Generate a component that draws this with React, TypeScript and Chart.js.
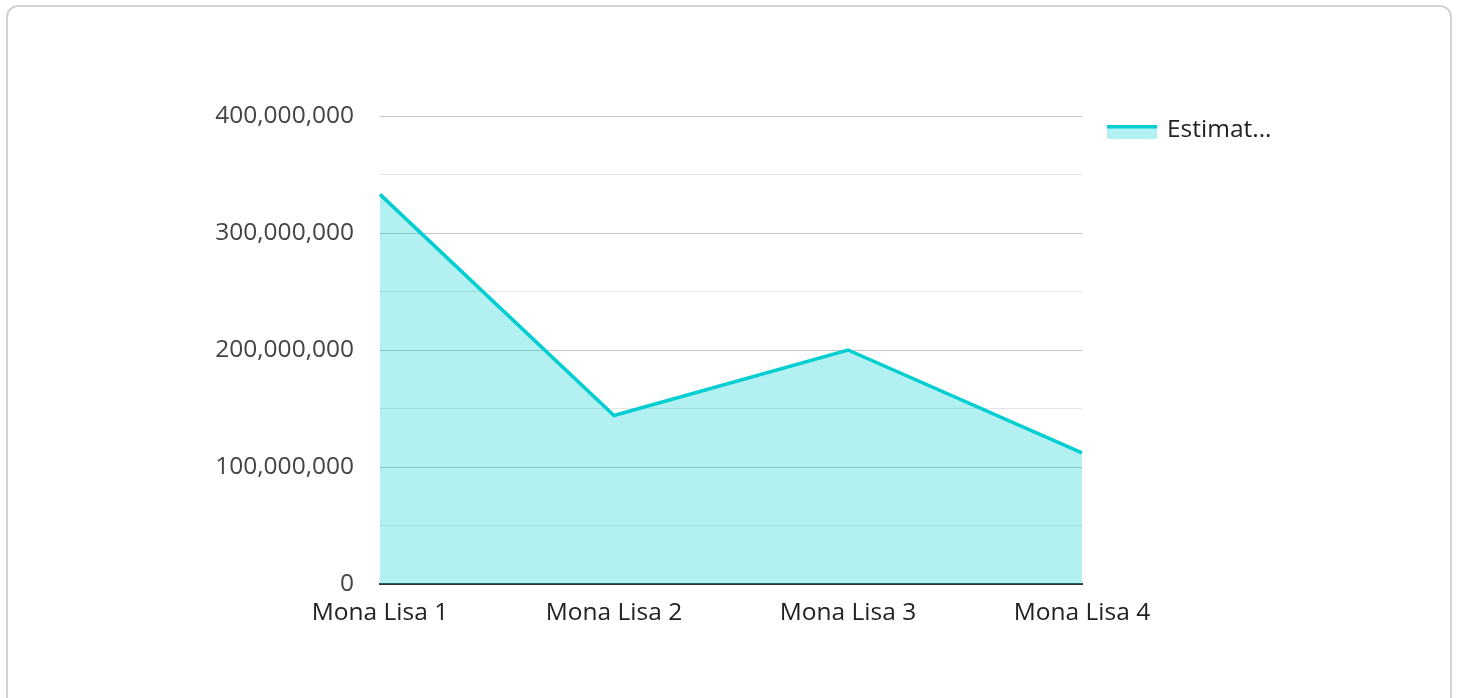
import React, { useEffect, useRef } from "react";
import { Chart, registerables } from "chart.js";

Chart.register(...registerables);

const categories: string[] = ["Mona Lisa 1", "Mona Lisa 2", "Mona Lisa 3", "Mona Lisa 4"];
const estimatedValues: number[] = [333000000, 144000000, 200000000, 112000000];
const seriesLabel = "Estimated value";
const yMin = 0;
const yMax = 400000000;
const yStep = 50000000;
const yLabelStep = 100000000;

const FONT = "'Open Sans', 'Noto Sans', sans-serif";
const FONT_SIZE = 24.5;
const LINE = "#00CED1";
const FILL = "rgba(0, 206, 209, 0.3)";

const legendPlugin = {
  id: "customLegend",
  afterDraw(chart: any) {
    const ctx = chart.ctx;
    const area = chart.chartArea;
    const ds = chart.data.datasets[0];
    const x = area.right + 25;
    const y = area.top + 9;
    const bw = 50;
    const bh = 14;
    ctx.save();
    ctx.fillStyle = FILL;
    ctx.fillRect(x, y, bw, bh);
    ctx.fillStyle = LINE;
    ctx.fillRect(x, y, bw, 3.5);
    ctx.font = `${FONT_SIZE}px ${FONT}`;
    ctx.fillStyle = "#222222";
    ctx.textBaseline = "middle";
    ctx.textAlign = "left";
    let label: string = ds.label;
    const maxW = 110;
    if (ctx.measureText(label).width > maxW) {
      let n = label.length;
      while (n > 0 && ctx.measureText(label.slice(0, n) + "...").width > maxW) n--;
      label = label.slice(0, n) + "...";
    }
    ctx.fillText(label, x + bw + 10, y + 5);
    ctx.restore();
  },
};

export default function App() {
  const ref = useRef<HTMLCanvasElement | null>(null);

  useEffect(() => {
    if (!ref.current) return;
    const chart = new Chart(ref.current, {
      type: "line",
      data: {
        labels: categories,
        datasets: [
          {
            label: seriesLabel,
            data: estimatedValues,
            borderColor: LINE,
            backgroundColor: FILL,
            borderWidth: 3.5,
            fill: "origin",
            tension: 0,
            pointRadius: 0,
            pointHoverRadius: 0,
          },
        ],
      },
      options: {
        responsive: false,
        animation: false,
        devicePixelRatio: 1,
        layout: { padding: { left: 0, right: 376, top: 116, bottom: 54 } },
        plugins: { legend: { display: false }, tooltip: { enabled: false } },
        scales: {
          x: {
            offset: false,
            grid: { display: false, drawTicks: false },
            border: { display: true, color: "#333333", width: 2 },
            ticks: {
              padding: 14,
              color: "#222222",
              font: { family: FONT, size: FONT_SIZE },
              maxRotation: 0,
            },
            afterFit: (s: any) => {
              s.height = 60;
            },
          },
          y: {
            min: yMin,
            max: yMax,
            grid: {
              drawTicks: false,
              color: (c: any) => {
                const v = c.tick ? c.tick.value : 0;
                if (v === 0) return "rgba(0,0,0,0)";
                return v % yLabelStep === 0 ? "#c4c4c4" : "#e4e4e4";
              },
              lineWidth: 1,
            },
            border: { display: false },
            ticks: {
              stepSize: yStep,
              padding: 26,
              color: "#444444",
              font: { family: FONT, size: FONT_SIZE },
              callback: (v: any) =>
                Number(v) % yLabelStep === 0 ? Number(v).toLocaleString("en-US") : "",
            },
            afterFit: (s: any) => {
              s.width = 380;
            },
          },
        },
      },
      plugins: [legendPlugin],
    });
    return () => chart.destroy();
  }, []);

  return (
    <>
      <div
        style={{
          position: "absolute",
          left: 6,
          top: 5,
          width: 1442,
          height: 720,
          border: "2px solid #d2d2d2",
          borderRadius: 12,
          background: "#ffffff",
        }}
      />
      <canvas
        ref={ref}
        width={1458}
        height={698}
        style={{ position: "absolute", left: 0, top: 0, width: 1458, height: 698 }}
      />
    </>
  );
}
